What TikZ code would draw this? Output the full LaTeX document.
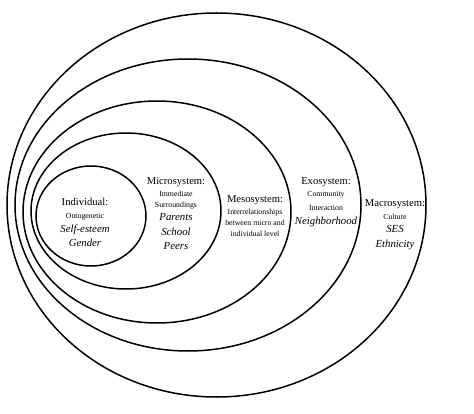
\documentclass[tikz,border=0pt]{standalone}
\usepackage{fontspec}
\setmainfont{Liberation Serif}
\usetikzlibrary{positioning}
\tikzset{
	headtext/.style={font=\fontsize{10.6}{12}\selectfont, inner sep=0pt, text height=0.7em, text depth=0.2em}
}
\tikzset{
	smalltext/.style={font=\fontsize{7.8}{9}\selectfont, inner sep=0pt, text height=0.7em, text depth=0.2em}
}
\tikzset{
	itext/.style={font=\fontsize{10.8}{12}\selectfont\itshape, inner sep=0pt, text height=0.7em, text depth=0.2em}
}
\begin{document}
\begin{tikzpicture}[x=1pt, y=-1pt]

              \tikzset{
                ring/.style={
                    draw=black,
                    line width=1.5pt
                  }
              }

              \useasboundingbox (0,0) rectangle (474,414);

              % the five systems, inside out
              \draw[ring] (91,216) ellipse (55pt and 50pt);
              \draw[ring] (126,211) ellipse (95pt and 78pt);
              \draw[ring] (157,212) ellipse (134pt and 111pt);
              \draw[ring] (188,205) ellipse (173pt and 146pt);
              \draw[ring] (216.5,205) ellipse (209.5pt and 192pt);

              % individual
              \node[headtext] (ind-head) at (85,203) {Individual:};
              \node[smalltext] (ind-a) at (85,216) {Ontogenetic};
              \node[itext] (ind-b) at (85,230) {Self-esteem};
              \node[itext] (ind-c) at (85,244) {Gender};

              % microsystem
              \node[headtext] (mic-head) at (176,182) {Microsystem:};
              \node[smalltext] (mic-a) at (176,194) {Immediate};
              \node[smalltext] (mic-b) at (176,205) {Surroundings};
              \node[itext] (mic-c) at (176,218) {Parents};
              \node[itext] (mic-d) at (176,233) {School};
              \node[itext] (mic-e) at (176,247) {Peers};

              % mesosystem
              \node[headtext] (mes-head) at (255,200) {Mesosystem:};
              \node[smalltext] (mes-a) at (255,212) {Interrelationships};
              \node[smalltext] (mes-b) at (255,223) {between micro and};
              \node[smalltext] (mes-c) at (255,234) {individual level};

              % exosystem
              \node[headtext] (exo-head) at (326,182) {Exosystem:};
              \node[smalltext] (exo-a) at (326,194) {Community};
              \node[smalltext] (exo-b) at (326,208) {Interaction};
              \node[itext] (exo-c) at (326,222) {Neighborhood};

              % macrosystem
              \node[headtext] (mac-head) at (395,204) {Macrosystem:};
              \node[smalltext] (mac-a) at (395,217) {Culture};
              \node[itext] (mac-b) at (395,230) {SES};
              \node[itext] (mac-c) at (395,245) {Ethnicity};
            \end{tikzpicture}
\end{document}
